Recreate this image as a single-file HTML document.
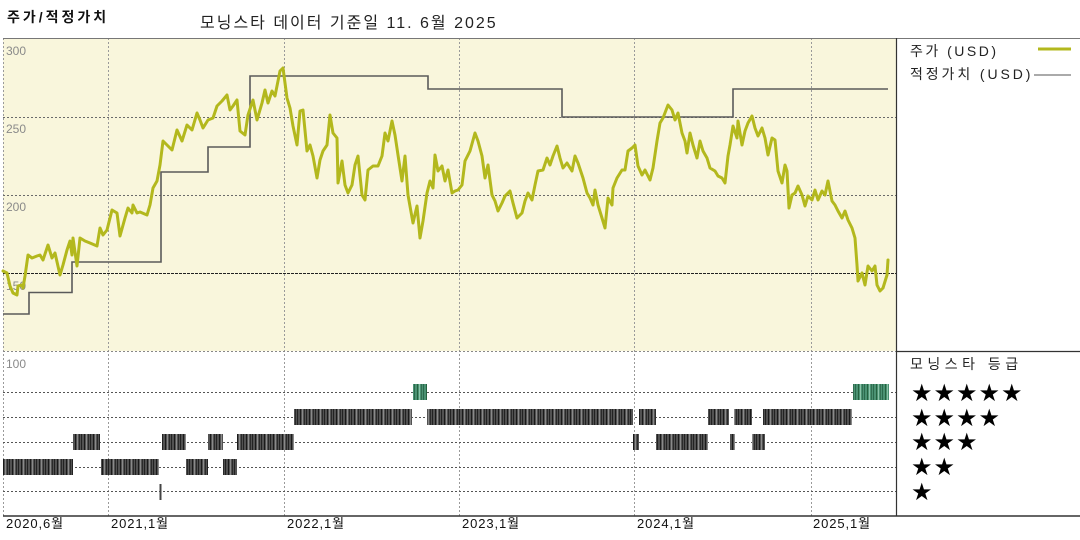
<!DOCTYPE html>
<html><head><meta charset="utf-8"><style>
html,body{margin:0;padding:0;background:#fff;}
svg{display:block;}
text{font-family:"Liberation Sans","Noto Sans CJK KR",sans-serif;}
</style></head><body>
<svg width="1080" height="540" viewBox="0 0 1080 540" xmlns="http://www.w3.org/2000/svg">
<defs>
<pattern id="pg" width="9" height="20" patternUnits="userSpaceOnUse">
<rect width="9" height="20" fill="#525252"/>
<rect x="0" width="1" height="20" fill="#222"/>
<rect x="3" width="1" height="20" fill="#1a1a1a"/>
<rect x="5" width="1" height="20" fill="#8a8a8a"/>
<rect x="7" width="1" height="20" fill="#2a2a2a"/>
</pattern>
<pattern id="pgr" width="9" height="20" patternUnits="userSpaceOnUse">
<rect width="9" height="20" fill="#4b9273"/>
<rect x="0" width="1" height="20" fill="#2a6a4c"/>
<rect x="3" width="1" height="20" fill="#24623f"/>
<rect x="5" width="1" height="20" fill="#8cc4a8"/>
<rect x="7" width="1" height="20" fill="#336f52"/>
</pattern>
</defs>

<!-- headers -->
<text x="7" y="22" font-size="14" font-weight="bold" letter-spacing="3" fill="#111">주가/적정가치</text>
<text x="200" y="28" font-size="16" letter-spacing="2" fill="#222">모닝스타 데이터 기준일 11. 6월 2025</text>

<!-- price panel background -->
<rect x="3" y="38" width="894" height="313" fill="#f9f6dc"/>

<!-- vertical gridlines -->
<g stroke="#9a9a9a" stroke-width="1" stroke-dasharray="2,2">
<line x1="108.5" y1="38" x2="108.5" y2="516"/>
<line x1="284.5" y1="38" x2="284.5" y2="516"/>
<line x1="459.5" y1="38" x2="459.5" y2="516"/>
<line x1="634.5" y1="38" x2="634.5" y2="516"/>
<line x1="811.5" y1="38" x2="811.5" y2="516"/>
<line x1="3.5" y1="38" x2="3.5" y2="516"/>
</g>
<!-- horizontal gridlines price -->
<g stroke="#6a6a6a" stroke-width="1" stroke-dasharray="2,2">
<line x1="3" y1="117.5" x2="897" y2="117.5"/>
<line x1="3" y1="195.5" x2="897" y2="195.5"/>
</g>
<line x1="3" y1="273.5" x2="897" y2="273.5" stroke="#222" stroke-width="1" stroke-dasharray="3,1"/>
<line x1="3" y1="351.5" x2="897" y2="351.5" stroke="#888" stroke-width="1" stroke-dasharray="2,2"/>

<!-- y labels -->
<g font-size="12" fill="#8a8a8a">
<text x="6" y="55">300</text>
<text x="6" y="133">250</text>
<text x="6" y="211">200</text>
<text x="6" y="290">150</text>
<text x="6" y="368">100</text>
</g>

<!-- fair value -->
<polyline fill="none" stroke="#5a5a5a" stroke-width="1.6" points="3,314 29,314 29,292.5 72,292.5 72,262 161,262 161,172 208,172 208,147 250,147 250,76 428,76 428,89 562,89 562,117 733,117 733,89 888,89"/>

<!-- price -->
<polyline fill="none" stroke="#b3b81d" stroke-width="3" stroke-linejoin="round" stroke-linecap="round" points="3,271 7,273 10,286 13,293 17,295 18,286 22,285 23,288 25,276 28,255 32,258 37,256 40,255 43,260 48,245 52,258 55,253 60,275 63,265 67,250 70,241 72,255 73,238 77,266 80,238 85,241 90,243 97,246 100,228 103,235 107,230 112,210 117,213 120,236 125,218 128,208 132,213 133,205 137,213 140,212 147,215 150,205 153,188 157,181 160,165 163,141 167,145 172,150 177,130 182,141 187,125 192,130 197,113 200,120 203,128 208,120 213,118 217,106 222,101 227,95 230,110 233,106 237,100 240,131 245,135 248,115 253,100 257,120 262,103 265,90 268,103 272,91 275,96 280,71 283,68 287,98 290,108 293,126 297,145 300,111 303,110 307,151 310,145 313,156 317,178 320,160 323,151 327,145 330,115 333,133 337,138 338,183 342,161 345,185 348,193 352,185 355,165 358,156 362,195 365,200 368,170 373,166 378,166 382,156 385,133 388,141 392,121 395,135 398,155 402,181 405,156 408,195 413,223 417,206 420,238 423,221 427,193 430,181 433,188 435,155 438,171 442,166 445,181 448,170 452,193 455,191 458,190 462,185 465,161 470,151 475,133 478,141 482,156 485,178 488,165 492,195 495,201 498,211 502,203 505,196 510,191 513,203 517,218 522,213 525,201 528,193 532,200 535,185 538,171 543,170 547,158 550,165 553,156 557,146 560,158 563,168 567,163 572,171 575,156 578,163 583,178 587,193 590,198 593,205 595,190 598,205 602,218 605,228 608,198 612,205 613,188 617,178 622,170 625,170 628,151 632,148 635,145 638,166 642,175 645,170 648,176 650,180 653,168 657,141 660,123 663,118 668,105 672,110 675,120 678,113 682,133 685,141 687,153 690,133 693,145 697,158 700,141 703,151 707,158 710,168 715,171 718,176 722,178 725,183 728,156 730,145 733,126 737,138 738,121 742,145 745,131 748,123 752,116 755,128 758,136 762,128 765,138 768,155 772,138 775,140 778,171 782,183 785,165 787,171 789,208 792,195 795,193 798,186 802,195 805,206 808,196 812,200 815,190 818,200 822,191 825,195 828,181 832,201 835,205 838,211 842,218 845,211 848,220 852,228 855,238 857,265 858,281 862,273 865,285 868,266 872,271 875,266 877,285 880,291 883,288 887,275 888,260"/>

<!-- rating horizontal lines -->
<g stroke="#555" stroke-width="1" stroke-dasharray="2,2">
<line x1="3" y1="392.5" x2="897" y2="392.5"/>
<line x1="3" y1="417.5" x2="897" y2="417.5"/>
<line x1="3" y1="442.5" x2="897" y2="442.5"/>
<line x1="3" y1="467.5" x2="897" y2="467.5"/>
<line x1="3" y1="491.5" x2="897" y2="491.5"/>
</g>

<!-- rating bars -->
<g fill="url(#pgr)">
<rect x="413" y="384" width="14" height="16"/>
<rect x="853" y="384" width="36" height="16"/>
</g>
<g fill="url(#pg)">
<rect x="294" y="409" width="118" height="16"/>
<rect x="427" y="409" width="206" height="16"/>
<rect x="639" y="409" width="17" height="16"/>
<rect x="708" y="409" width="21" height="16"/>
<rect x="734" y="409" width="18" height="16"/>
<rect x="763" y="409" width="89" height="16"/>

<rect x="73" y="434" width="27" height="16"/>
<rect x="162" y="434" width="24" height="16"/>
<rect x="208" y="434" width="15" height="16"/>
<rect x="237" y="434" width="57" height="16"/>
<rect x="633" y="434" width="6" height="16"/>
<rect x="656" y="434" width="52" height="16"/>
<rect x="730" y="434" width="5" height="16"/>
<rect x="752" y="434" width="13" height="16"/>

<rect x="3" y="459" width="70" height="16"/>
<rect x="101" y="459" width="58" height="16"/>
<rect x="186" y="459" width="22" height="16"/>
<rect x="223" y="459" width="14" height="16"/>
</g>
<rect x="159.5" y="484" width="2" height="16" fill="#444"/>

<!-- borders -->
<line x1="3" y1="38.5" x2="1080" y2="38.5" stroke="#777" stroke-width="1"/>
<line x1="896.5" y1="38" x2="896.5" y2="516" stroke="#333" stroke-width="1.2"/>
<line x1="897" y1="351.5" x2="1080" y2="351.5" stroke="#333" stroke-width="1.2"/>
<line x1="3" y1="516" x2="1080" y2="516" stroke="#333" stroke-width="1.4"/>

<!-- legend -->
<text x="910" y="56" font-size="14" letter-spacing="2.5" fill="#222">주가 (USD)</text>
<line x1="1038" y1="49" x2="1071" y2="49" stroke="#b3b81d" stroke-width="3"/>
<text x="910" y="79" font-size="14" letter-spacing="2.9" fill="#222">적정가치 (USD)</text>
<line x1="1034" y1="75" x2="1071" y2="75" stroke="#555" stroke-width="1"/>

<text x="910" y="369" font-size="14" letter-spacing="4.5" fill="#222">모닝스타 등급</text>

<!-- stars -->
<g font-size="24" fill="#000">
<text x="911" y="401" style="font-family:'DejaVu Sans',sans-serif">★</text>
<text x="933.5" y="401" style="font-family:'DejaVu Sans',sans-serif">★</text>
<text x="956" y="401" style="font-family:'DejaVu Sans',sans-serif">★</text>
<text x="978.5" y="401" style="font-family:'DejaVu Sans',sans-serif">★</text>
<text x="1001" y="401" style="font-family:'DejaVu Sans',sans-serif">★</text>

<text x="911" y="426" style="font-family:'DejaVu Sans',sans-serif">★</text>
<text x="933.5" y="426" style="font-family:'DejaVu Sans',sans-serif">★</text>
<text x="956" y="426" style="font-family:'DejaVu Sans',sans-serif">★</text>
<text x="978.5" y="426" style="font-family:'DejaVu Sans',sans-serif">★</text>

<text x="911" y="450" style="font-family:'DejaVu Sans',sans-serif">★</text>
<text x="933.5" y="450" style="font-family:'DejaVu Sans',sans-serif">★</text>
<text x="956" y="450" style="font-family:'DejaVu Sans',sans-serif">★</text>

<text x="911" y="475" style="font-family:'DejaVu Sans',sans-serif">★</text>
<text x="933.5" y="475" style="font-family:'DejaVu Sans',sans-serif">★</text>

<text x="911" y="500" style="font-family:'DejaVu Sans',sans-serif">★</text>
</g>

<!-- x labels -->
<g font-size="13" letter-spacing="0.9" fill="#111">
<text x="6" y="528">2020,6월</text>
<text x="111" y="528">2021,1월</text>
<text x="287" y="528">2022,1월</text>
<text x="462" y="528">2023,1월</text>
<text x="637" y="528">2024,1월</text>
<text x="813" y="528">2025,1월</text>
</g>
</svg>
</body></html>
